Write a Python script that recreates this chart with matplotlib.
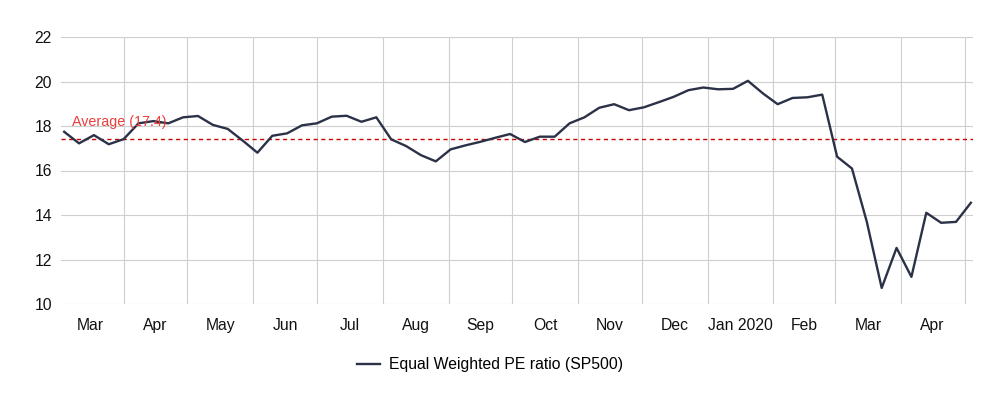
import matplotlib
matplotlib.use("Agg")
import matplotlib.pyplot as plt
import matplotlib.dates as mdates
import matplotlib.transforms as mtransforms
import pandas as pd
import numpy as np

plt.rcParams['font.family'] = ['Liberation Sans', 'DejaVu Sans']

# ---- data ----
start_date = "2019-03-04"
pe_values = [
    17.74, 17.22, 17.59, 17.18, 17.41, 18.12, 18.22, 18.12, 18.39, 18.45,
    18.05, 17.87, 17.35, 16.80, 17.56, 17.67, 18.03, 18.12, 18.42, 18.46,
    18.19, 18.39, 17.40, 17.10, 16.69, 16.41, 16.95, 17.13, 17.29, 17.47,
    17.64, 17.28, 17.52, 17.52, 18.12, 18.39, 18.82, 18.98, 18.71, 18.84,
    19.07, 19.31, 19.61, 19.73, 19.65, 19.67, 20.03, 19.47, 18.98, 19.26,
    19.29, 19.41, 16.62, 16.09, 13.69, 10.72, 12.52, 11.22, 14.10, 13.65,
    13.69, 14.55,
]
average_value = 17.4
series_name = "Equal Weighted PE ratio (SP500)"
average_label = "Average (17.4)"
month_labels = ["Mar", "Apr", "May", "Jun", "Jul", "Aug", "Sep", "Oct",
                "Nov", "Dec", "Jan 2020", "Feb", "Mar", "Apr"]
y_ticks = [10, 12, 14, 16, 18, 20, 22]

dates = pd.date_range(start_date, periods=len(pe_values), freq="7D")

# ---- figure ----
W, H = 991, 395
fig = plt.figure(figsize=(W / 100, H / 100), dpi=100)
ax = fig.add_axes([61 / W, 1 - 304 / H, (973 - 61) / W, (304 - 37) / H])

ax.plot(dates, pe_values, color="#2b3147", lw=1.7, zorder=3,
        solid_joinstyle="round", label=series_name)
ax.axhline(average_value, color="#cc0000", lw=1.0, ls=(0, (3, 2.5)), zorder=2)

trans = mtransforms.blended_transform_factory(ax.transAxes, ax.transData)
ax.text(0.012, average_value + 0.79, average_label, transform=trans,
        color="#e8403c", fontsize=10.3, va="center", ha="left", zorder=4)

ax.set_ylim(10, 22)
ax.set_yticks(y_ticks)
ax.set_xlim(pd.Timestamp("2019-03-02 12:00"), pd.Timestamp("2020-05-05"))

# month-start gridlines (major), labels centered in month (minor)
month_starts = pd.date_range("2019-03-01", "2020-05-01", freq="MS")
ax.set_xticks(month_starts[1:])
ax.set_xticklabels([])
mids = [a + (b - a) / 2 for a, b in zip(month_starts[:-1], month_starts[1:])]
ax.set_xticks(mids, minor=True)
ax.set_xticklabels(month_labels, minor=True)

ax.grid(True, which="major", color="#cfcfcf", lw=0.8)
ax.set_axisbelow(True)
ax.tick_params(axis="x", which="both", length=0, pad=10, labelsize=11.3,
               labelcolor="#111111")
ax.tick_params(axis="y", length=0, pad=6.5, labelsize=11.3, labelcolor="#111111")
for s in ax.spines.values():
    s.set_visible(False)

fig.legend(loc="center", bbox_to_anchor=(490 / W, 1 - 365 / H), frameon=False,
           fontsize=11.3, handlelength=1.5, handletextpad=0.55)

fig.savefig("out.png", dpi=100)
